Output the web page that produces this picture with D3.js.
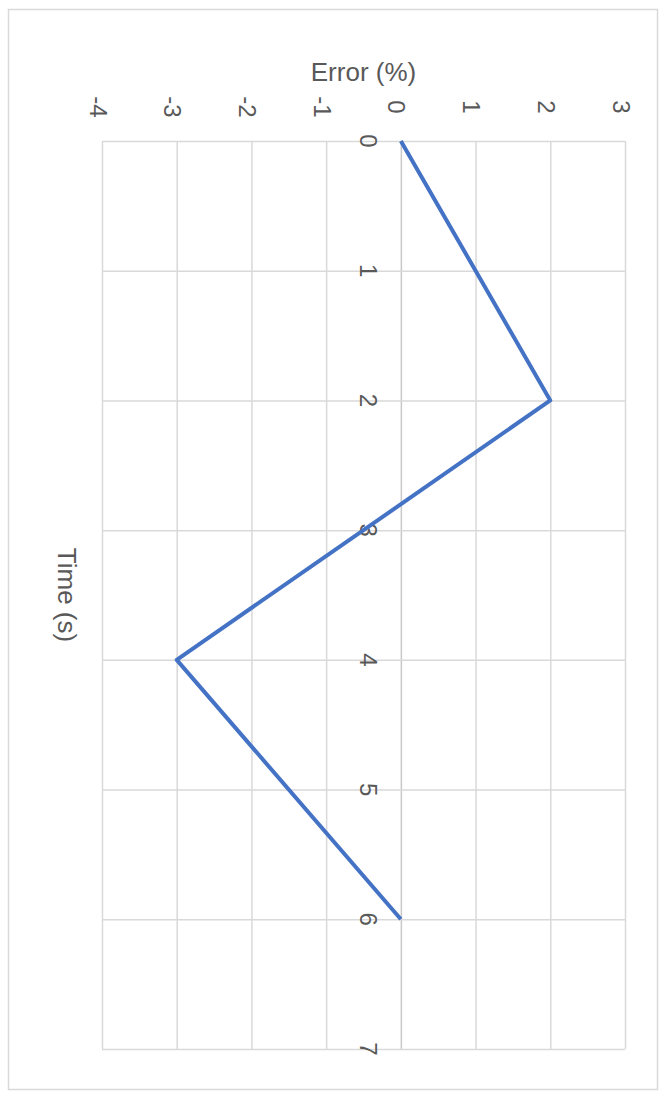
<!DOCTYPE html>
<html>
<head>
<meta charset="utf-8">
<script src="https://cdn.jsdelivr.net/npm/d3@7.9.0/dist/d3.min.js"></script>
<style>
  body { margin: 0; background: #fff; }
  text { font-family: 'Liberation Sans', Arial, sans-serif; fill: #595959; }
</style>
</head>
<body>
<div id="chart"></div>
<script>
// data
const times = [0, 2, 4, 6];
const errors = [0, 2, -3, 0];
const timeTicks = [0, 1, 2, 3, 4, 5, 6, 7];
const errorTicks = [-4, -3, -2, -1, 0, 1, 2, 3];
const xTitle = 'Error (%)';
const yTitle = 'Time (s)';

const width = 668;
const height = 1106;
const plot = { left: 102, right: 625, top: 141, bottom: 1049 };

const svg = d3.select('#chart')
  .append('svg')
  .attr('width', width)
  .attr('height', height);

svg.append('rect')
  .attr('x', 8.5).attr('y', 9.5)
  .attr('width', 649).attr('height', 1080)
  .attr('fill', '#fff')
  .attr('stroke', '#d9d9d9')
  .attr('stroke-width', 1.5);

const xScale = d3.scaleLinear()
  .domain([-4, 3])
  .range([plot.left, plot.right]);

const yScale = d3.scaleLinear()
  .domain([0, 7])
  .range([plot.top, plot.bottom]);

// vertical gridlines (error)
svg.append('g')
  .attr('class', 'xgrid')
  .attr('transform', `translate(0,${plot.top})`)
  .call(d3.axisTop(xScale).tickValues(errorTicks).tickFormat('')
    .tickSize(-(plot.bottom - plot.top)))
  .call((g) => g.select('.domain').remove())
  .call((g) => g.selectAll('line')
    .attr('stroke', (d) => d === 0 ? '#c8c8c8' : '#d9d9d9')
    .attr('stroke-width', 1.5));

// horizontal gridlines (time)
svg.append('g')
  .attr('class', 'ygrid')
  .attr('transform', `translate(${plot.left},0)`)
  .call(d3.axisLeft(yScale).tickValues(timeTicks).tickFormat('')
    .tickSize(-(plot.right - plot.left)))
  .call((g) => g.select('.domain').remove())
  .call((g) => g.selectAll('line')
    .attr('stroke', '#d9d9d9')
    .attr('stroke-width', 1.5));

// error tick labels, rotated
svg.append('g')
  .selectAll('text')
  .data(errorTicks)
  .join('text')
  .attr('transform', (d) => `translate(${xScale(d) - 4},107) rotate(90)`)
  .attr('text-anchor', 'middle')
  .attr('dy', '0.35em')
  .attr('font-size', 24)
  .text((d) => d);

// time tick labels, rotated, next to the zero line
svg.append('g')
  .selectAll('text')
  .data(timeTicks)
  .join('text')
  .attr('transform', (d) => `translate(${xScale(0) - 32},${yScale(d)}) rotate(90)`)
  .attr('text-anchor', 'middle')
  .attr('dy', '0.35em')
  .attr('font-size', 24)
  .text((d) => d);

// the series
const pts = times.map((t, i) => [t, errors[i]]);
svg.append('path')
  .datum(pts)
  .attr('fill', 'none')
  .attr('stroke', '#4472c4')
  .attr('stroke-width', 4)
  .attr('stroke-linejoin', 'round')
  .attr('d', d3.line().x((d) => xScale(d[1])).y((d) => yScale(d[0])));

// titles
svg.append('text')
  .attr('x', (plot.left + plot.right) / 2)
  .attr('y', 72)
  .attr('text-anchor', 'middle')
  .attr('dy', '0.35em')
  .attr('font-size', 26)
  .text(xTitle);

svg.append('text')
  .attr('transform', `translate(67,${(plot.top + plot.bottom) / 2}) rotate(90)`)
  .attr('text-anchor', 'middle')
  .attr('dy', '0.35em')
  .attr('font-size', 26)
  .text(yTitle);
</script>
</body>
</html>
